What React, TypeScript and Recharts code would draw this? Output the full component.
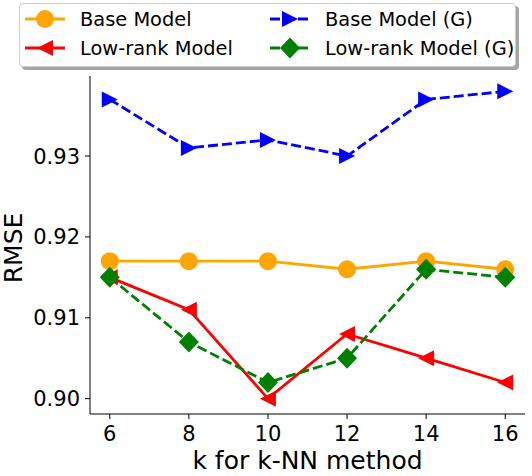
import { LineChart, Line, XAxis, YAxis, Legend } from "recharts";

const kValues = [6, 8, 10, 12, 14, 16];
const baseModel = [0.917, 0.917, 0.917, 0.916, 0.917, 0.916];
const lowRankModel = [0.915, 0.911, 0.9, 0.908, 0.905, 0.902];
const baseModelG = [0.937, 0.931, 0.932, 0.93, 0.937, 0.938];
const lowRankModelG = [0.915, 0.907, 0.902, 0.905, 0.916, 0.915];
const xTicks = [6, 8, 10, 12, 14, 16];
const yTicks = [0.9, 0.91, 0.92, 0.93];

const data = kValues.map((k, i) => ({
  k,
  base: baseModel[i],
  lowRank: lowRankModel[i],
  baseG: baseModelG[i],
  lowRankG: lowRankModelG[i],
}));

const FONT = "DejaVu Sans";

type Shape = "circle" | "triRight" | "triLeft" | "diamond";

const marker = (shape: Shape, x: number, y: number, color: string, key?: string | number) => {
  if (shape === "circle") return <circle key={key} cx={x} cy={y} r={9} fill={color} />;
  if (shape === "triRight")
    return <polygon key={key} points={`${x + 8},${y} ${x - 8},${y - 8} ${x - 8},${y + 8}`} fill={color} />;
  if (shape === "triLeft")
    return <polygon key={key} points={`${x - 8},${y} ${x + 8},${y - 8} ${x + 8},${y + 8}`} fill={color} />;
  return <polygon key={key} points={`${x},${y - 10.5} ${x + 10},${y} ${x},${y + 10.5} ${x - 10},${y}`} fill={color} />;
};

const dot = (shape: Shape, color: string) => (props: any) => {
  const { cx, cy, index } = props;
  if (cx == null || cy == null) return <g key={index} />;
  return marker(shape, cx, cy, color, index);
};

const legendItems: { name: string; color: string; shape: Shape; dashed: boolean; col: number; row: number }[] = [
  { name: "Base Model", color: "#FFA500", shape: "circle", dashed: false, col: 0, row: 0 },
  { name: "Low-rank Model", color: "#FF0000", shape: "triLeft", dashed: false, col: 0, row: 1 },
  { name: "Base Model (G)", color: "#0000FF", shape: "triRight", dashed: true, col: 1, row: 0 },
  { name: "Low-rank Model (G)", color: "#008000", shape: "diamond", dashed: true, col: 1, row: 1 },
];

const LegendBox = () => (
  <div
    style={{
      width: 495,
      height: 62,
      border: "1px solid #cccccc",
      borderRadius: 4,
      background: "#fff",
      boxShadow: "3px 3px 0 rgba(0,0,0,0.35)",
    }}
  >
    <svg width={495} height={62}>
      {legendItems.map((it) => {
        const x0 = it.col === 0 ? 5 : 250;
        const y = it.row === 0 ? 15 : 44;
        return (
          <g key={it.name}>
            <line
              x1={x0}
              x2={x0 + 40}
              y1={y}
              y2={y}
              stroke={it.color}
              strokeWidth={2.8}
              strokeDasharray={it.dashed ? "10 4" : undefined}
            />
            {marker(it.shape, x0 + 20, y, it.color)}
            <text x={x0 + 55} y={y + 7} fontFamily={FONT} fontSize={19.4} fill="#000">
              {it.name}
            </text>
          </g>
        );
      })}
    </svg>
  </div>
);

export default function App() {
  return (
    <div style={{ position: "absolute", left: 0, top: 0, background: "#fff" }}>
      <LineChart
        width={532}
        height={476}
        data={data}
        margin={{ top: 76, right: 7, bottom: 0, left: 0 }}
        style={{ fontFamily: FONT }}
      >
        <XAxis
          dataKey="k"
          type="number"
          domain={[5.5, 16.5]}
          ticks={xTicks}
          allowDataOverflow
          height={62}
          tickSize={5}
          tickMargin={7}
          stroke="#000"
          tick={{ fill: "#000", fontSize: 21, fontFamily: FONT }}
          label={{ value: "k for k-NN method", position: "insideBottom", offset: 7, fill: "#000", fontSize: 25, fontFamily: FONT }}
        />
        <XAxis
          xAxisId="top"
          orientation="top"
          dataKey="k"
          type="number"
          domain={[5.5, 16.5]}
          height={0}
          tick={false}
          tickLine={false}
          stroke="#000"
        />
        <YAxis
          domain={[0.8981, 0.9399]}
          ticks={yTicks}
          allowDataOverflow
          width={90}
          tickSize={5}
          tickMargin={5}
          stroke="#000"
          tickFormatter={(v: number) => v.toFixed(2)}
          tick={{ fill: "#000", fontSize: 21, fontFamily: FONT }}
          label={{
            content: () => (
              <text
                x={22}
                y={248}
                transform="rotate(-90, 22, 248)"
                textAnchor="middle"
                fontSize={25}
                fontFamily={FONT}
                fill="#000"
              >
                RMSE
              </text>
            ),
          }}
        />
        <YAxis
          yAxisId="right"
          orientation="right"
          domain={[0.8981, 0.9399]}
          width={0}
          tick={false}
          tickLine={false}
          stroke="#000"
        />
        <Legend
          layout="horizontal"
          verticalAlign="middle"
          align="center"
          wrapperStyle={{ position: "absolute", top: 3, left: 19, width: 497, height: 64 }}
          content={() => <LegendBox />}
        />
        <Line
          dataKey="base"
          stroke="#FFA500"
          strokeWidth={2.8}
          dot={dot("circle", "#FFA500")}
          activeDot={false}
          isAnimationActive={false}
        />
        <Line
          dataKey="lowRank"
          stroke="#FF0000"
          strokeWidth={2.8}
          dot={dot("triLeft", "#FF0000")}
          activeDot={false}
          isAnimationActive={false}
        />
        <Line
          dataKey="baseG"
          stroke="#0000FF"
          strokeWidth={2.8}
          strokeDasharray="10 4"
          dot={dot("triRight", "#0000FF")}
          activeDot={false}
          isAnimationActive={false}
        />
        <Line
          dataKey="lowRankG"
          stroke="#008000"
          strokeWidth={2.8}
          strokeDasharray="10 4"
          dot={dot("diamond", "#008000")}
          activeDot={false}
          isAnimationActive={false}
        />
      </LineChart>
    </div>
  );
}
